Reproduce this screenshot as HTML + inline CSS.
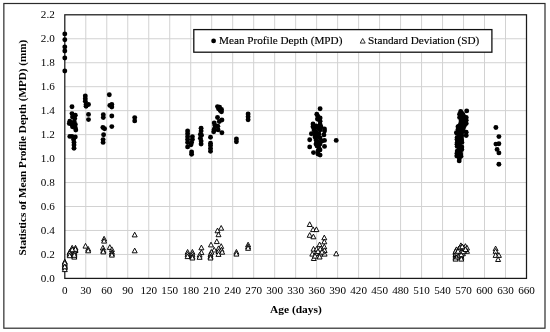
<!DOCTYPE html>
<html><head><meta charset="utf-8"><title>Statistics of Mean Profile Depth</title>
<style>
html,body{margin:0;padding:0;background:#fff;}
svg{display:block;}
text{font-family:"Liberation Serif","Times New Roman",serif;fill:#000;}
.ax{font-size:11.15px;}
.lg{font-size:11.2px;stroke:#000;stroke-width:0.15px;}
.b{font-weight:bold;font-size:11.15px;}
</style></head><body>
<svg width="550" height="332" viewBox="0 0 550 332">
<rect x="0" y="0" width="550" height="332" fill="#fff"/>
<rect x="3.85" y="3.5" width="541.15" height="324.70" fill="none" stroke="#2b2b2b" stroke-width="1.2"/>
<path d="M85.79 14.80V278.40M106.77 14.80V278.40M127.76 14.80V278.40M148.75 14.80V278.40M169.73 14.80V278.40M190.72 14.80V278.40M211.70 14.80V278.40M232.69 14.80V278.40M253.68 14.80V278.40M274.66 14.80V278.40M295.65 14.80V278.40M316.64 14.80V278.40M337.62 14.80V278.40M358.61 14.80V278.40M379.60 14.80V278.40M400.58 14.80V278.40M421.57 14.80V278.40M442.55 14.80V278.40M463.54 14.80V278.40M484.53 14.80V278.40M505.51 14.80V278.40M64.80 254.44H526.50M64.80 230.47H526.50M64.80 206.51H526.50M64.80 182.55H526.50M64.80 158.58H526.50M64.80 134.62H526.50M64.80 110.65H526.50M64.80 86.69H526.50M64.80 62.73H526.50M64.80 38.76H526.50" stroke="#d2d2d2" stroke-width="1" fill="none"/>
<rect x="64.80" y="14.80" width="461.70" height="263.60" fill="none" stroke="#1a1a1a" stroke-width="1.25"/>
<text class="ax" x="54.8" y="281.95" text-anchor="end">0.0</text>
<text class="ax" x="54.8" y="257.99" text-anchor="end">0.2</text>
<text class="ax" x="54.8" y="234.02" text-anchor="end">0.4</text>
<text class="ax" x="54.8" y="210.06" text-anchor="end">0.6</text>
<text class="ax" x="54.8" y="186.10" text-anchor="end">0.8</text>
<text class="ax" x="54.8" y="162.13" text-anchor="end">1.0</text>
<text class="ax" x="54.8" y="138.17" text-anchor="end">1.2</text>
<text class="ax" x="54.8" y="114.20" text-anchor="end">1.4</text>
<text class="ax" x="54.8" y="90.24" text-anchor="end">1.6</text>
<text class="ax" x="54.8" y="66.28" text-anchor="end">1.8</text>
<text class="ax" x="54.8" y="42.31" text-anchor="end">2.0</text>
<text class="ax" x="54.8" y="18.35" text-anchor="end">2.2</text>
<text class="ax" x="64.80" y="294.15" text-anchor="middle">0</text>
<text class="ax" x="85.79" y="294.15" text-anchor="middle">30</text>
<text class="ax" x="106.77" y="294.15" text-anchor="middle">60</text>
<text class="ax" x="127.76" y="294.15" text-anchor="middle">90</text>
<text class="ax" x="148.75" y="294.15" text-anchor="middle">120</text>
<text class="ax" x="169.73" y="294.15" text-anchor="middle">150</text>
<text class="ax" x="190.72" y="294.15" text-anchor="middle">180</text>
<text class="ax" x="211.70" y="294.15" text-anchor="middle">210</text>
<text class="ax" x="232.69" y="294.15" text-anchor="middle">240</text>
<text class="ax" x="253.68" y="294.15" text-anchor="middle">270</text>
<text class="ax" x="274.66" y="294.15" text-anchor="middle">300</text>
<text class="ax" x="295.65" y="294.15" text-anchor="middle">330</text>
<text class="ax" x="316.64" y="294.15" text-anchor="middle">360</text>
<text class="ax" x="337.62" y="294.15" text-anchor="middle">390</text>
<text class="ax" x="358.61" y="294.15" text-anchor="middle">420</text>
<text class="ax" x="379.60" y="294.15" text-anchor="middle">450</text>
<text class="ax" x="400.58" y="294.15" text-anchor="middle">480</text>
<text class="ax" x="421.57" y="294.15" text-anchor="middle">510</text>
<text class="ax" x="442.55" y="294.15" text-anchor="middle">540</text>
<text class="ax" x="463.54" y="294.15" text-anchor="middle">570</text>
<text class="ax" x="484.53" y="294.15" text-anchor="middle">600</text>
<text class="ax" x="505.51" y="294.15" text-anchor="middle">630</text>
<text class="ax" x="526.50" y="294.15" text-anchor="middle">660</text>
<text class="b" style="font-size:11.4px" x="295.9" y="313.3" text-anchor="middle">Age (days)</text>
<text class="b" transform="translate(25.7 147.6) rotate(-90)" text-anchor="middle">Statistics of Mean Profile Depth (MPD) (mm)</text>
<g fill="#000">
<circle cx="64.8" cy="33.9" r="2.45"/><circle cx="64.8" cy="39.8" r="2.45"/><circle cx="64.8" cy="46.9" r="2.45"/><circle cx="64.8" cy="51.0" r="2.45"/><circle cx="64.8" cy="58.0" r="2.45"/><circle cx="64.8" cy="71.0" r="2.45"/><circle cx="72.0" cy="106.8" r="2.45"/><circle cx="72.0" cy="113.6" r="2.45"/><circle cx="75.3" cy="115.3" r="2.45"/><circle cx="72.5" cy="116.9" r="2.45"/><circle cx="74.7" cy="118.5" r="2.45"/><circle cx="69.8" cy="121.3" r="2.45"/><circle cx="74.2" cy="121.8" r="2.45"/><circle cx="69.3" cy="123.5" r="2.45"/><circle cx="72.0" cy="124.5" r="2.45"/><circle cx="75.3" cy="124.5" r="2.45"/><circle cx="72.5" cy="126.7" r="2.45"/><circle cx="75.3" cy="127.8" r="2.45"/><circle cx="75.8" cy="130.0" r="2.45"/><circle cx="69.8" cy="136.4" r="2.45"/><circle cx="72.0" cy="136.4" r="2.45"/><circle cx="75.3" cy="136.9" r="2.45"/><circle cx="73.6" cy="139.6" r="2.45"/><circle cx="74.0" cy="142.4" r="2.45"/><circle cx="74.0" cy="145.1" r="2.45"/><circle cx="74.0" cy="148.2" r="2.45"/><circle cx="85.3" cy="95.9" r="2.45"/><circle cx="85.3" cy="98.8" r="2.45"/><circle cx="85.3" cy="101.3" r="2.45"/><circle cx="86.1" cy="104.5" r="2.45"/><circle cx="88.5" cy="104.5" r="2.45"/><circle cx="86.1" cy="106.2" r="2.45"/><circle cx="88.5" cy="114.4" r="2.45"/><circle cx="88.5" cy="119.6" r="2.45"/><circle cx="109.3" cy="94.7" r="2.45"/><circle cx="109.8" cy="105.4" r="2.45"/><circle cx="111.8" cy="104.5" r="2.45"/><circle cx="111.8" cy="107.0" r="2.45"/><circle cx="111.8" cy="116.0" r="2.45"/><circle cx="111.8" cy="126.6" r="2.45"/><circle cx="103.3" cy="114.7" r="2.45"/><circle cx="103.3" cy="117.6" r="2.45"/><circle cx="102.9" cy="127.5" r="2.45"/><circle cx="104.6" cy="128.8" r="2.45"/><circle cx="103.6" cy="134.7" r="2.45"/><circle cx="103.1" cy="139.6" r="2.45"/><circle cx="103.1" cy="142.4" r="2.45"/><circle cx="134.7" cy="117.6" r="2.45"/><circle cx="134.7" cy="120.9" r="2.45"/><circle cx="217.5" cy="106.6" r="2.45"/><circle cx="218.5" cy="108.8" r="2.45"/><circle cx="221.5" cy="109.5" r="2.45"/><circle cx="221.5" cy="111.7" r="2.45"/><circle cx="217.5" cy="117.5" r="2.45"/><circle cx="221.9" cy="120.0" r="2.45"/><circle cx="219.3" cy="121.5" r="2.45"/><circle cx="214.2" cy="122.9" r="2.45"/><circle cx="214.9" cy="125.5" r="2.45"/><circle cx="217.8" cy="126.3" r="2.45"/><circle cx="214.2" cy="129.2" r="2.45"/><circle cx="218.1" cy="129.9" r="2.45"/><circle cx="213.7" cy="131.7" r="2.45"/><circle cx="221.9" cy="132.8" r="2.45"/><circle cx="219.6" cy="107.2" r="2.45"/><circle cx="220.2" cy="110.6" r="2.45"/><circle cx="248.1" cy="113.9" r="2.45"/><circle cx="248.1" cy="116.8" r="2.45"/><circle cx="248.1" cy="119.7" r="2.45"/><circle cx="236.4" cy="138.9" r="2.45"/><circle cx="236.4" cy="141.8" r="2.45"/><circle cx="187.6" cy="130.9" r="2.45"/><circle cx="187.6" cy="133.8" r="2.45"/><circle cx="187.6" cy="136.7" r="2.45"/><circle cx="187.6" cy="139.6" r="2.45"/><circle cx="187.6" cy="142.5" r="2.45"/><circle cx="187.6" cy="146.9" r="2.45"/><circle cx="192.4" cy="136.7" r="2.45"/><circle cx="192.4" cy="139.6" r="2.45"/><circle cx="191.6" cy="142.5" r="2.45"/><circle cx="191.0" cy="144.7" r="2.45"/><circle cx="191.6" cy="154.2" r="2.45"/><circle cx="191.6" cy="152.0" r="2.45"/><circle cx="201.1" cy="128.3" r="2.45"/><circle cx="201.1" cy="130.9" r="2.45"/><circle cx="200.4" cy="134.5" r="2.45"/><circle cx="201.5" cy="135.3" r="2.45"/><circle cx="200.4" cy="138.2" r="2.45"/><circle cx="201.1" cy="141.1" r="2.45"/><circle cx="201.1" cy="144.0" r="2.45"/><circle cx="210.5" cy="137.2" r="2.45"/><circle cx="210.5" cy="143.3" r="2.45"/><circle cx="210.5" cy="145.5" r="2.45"/><circle cx="210.5" cy="148.4" r="2.45"/><circle cx="210.5" cy="151.3" r="2.45"/><circle cx="320.1" cy="108.7" r="2.45"/><circle cx="316.8" cy="114.2" r="2.45"/><circle cx="317.9" cy="116.4" r="2.45"/><circle cx="320.1" cy="118.0" r="2.45"/><circle cx="317.4" cy="119.1" r="2.45"/><circle cx="320.1" cy="121.3" r="2.45"/><circle cx="313.0" cy="124.0" r="2.45"/><circle cx="320.1" cy="124.5" r="2.45"/><circle cx="313.0" cy="126.7" r="2.45"/><circle cx="324.5" cy="128.9" r="2.45"/><circle cx="324.5" cy="131.1" r="2.45"/><circle cx="311.4" cy="133.8" r="2.45"/><circle cx="309.7" cy="139.8" r="2.45"/><circle cx="309.7" cy="146.9" r="2.45"/><circle cx="313.5" cy="152.6" r="2.45"/><circle cx="317.9" cy="154.0" r="2.45"/><circle cx="320.1" cy="155.1" r="2.45"/><circle cx="324.5" cy="146.4" r="2.45"/><circle cx="324.5" cy="140.4" r="2.45"/><circle cx="323.9" cy="134.9" r="2.45"/><circle cx="336.2" cy="140.4" r="2.45"/><circle cx="316.0" cy="126.0" r="2.45"/><circle cx="318.0" cy="128.0" r="2.45"/><circle cx="320.0" cy="130.0" r="2.45"/><circle cx="316.0" cy="132.0" r="2.45"/><circle cx="319.0" cy="134.0" r="2.45"/><circle cx="317.0" cy="136.0" r="2.45"/><circle cx="320.0" cy="138.0" r="2.45"/><circle cx="316.0" cy="140.0" r="2.45"/><circle cx="318.0" cy="142.0" r="2.45"/><circle cx="320.0" cy="144.0" r="2.45"/><circle cx="317.0" cy="146.0" r="2.45"/><circle cx="319.0" cy="148.0" r="2.45"/><circle cx="320.0" cy="150.0" r="2.45"/><circle cx="315.0" cy="137.0" r="2.45"/><circle cx="321.0" cy="127.0" r="2.45"/><circle cx="314.0" cy="130.0" r="2.45"/><circle cx="315.0" cy="134.0" r="2.45"/><circle cx="322.0" cy="141.0" r="2.45"/><circle cx="316.0" cy="144.0" r="2.45"/><circle cx="318.0" cy="151.0" r="2.45"/><circle cx="314.0" cy="128.0" r="2.45"/><circle cx="466.7" cy="110.9" r="2.45"/><circle cx="460.7" cy="111.5" r="2.45"/><circle cx="459.6" cy="114.2" r="2.45"/><circle cx="461.8" cy="115.3" r="2.45"/><circle cx="459.6" cy="117.5" r="2.45"/><circle cx="466.2" cy="117.5" r="2.45"/><circle cx="462.9" cy="119.1" r="2.45"/><circle cx="466.2" cy="120.2" r="2.45"/><circle cx="463.5" cy="121.8" r="2.45"/><circle cx="466.2" cy="123.5" r="2.45"/><circle cx="458.0" cy="126.7" r="2.45"/><circle cx="463.5" cy="127.8" r="2.45"/><circle cx="458.0" cy="129.5" r="2.45"/><circle cx="456.4" cy="132.7" r="2.45"/><circle cx="466.2" cy="132.2" r="2.45"/><circle cx="461.8" cy="131.6" r="2.45"/><circle cx="466.2" cy="135.5" r="2.45"/><circle cx="462.0" cy="124.5" r="2.45"/><circle cx="464.0" cy="117.0" r="2.45"/><circle cx="461.5" cy="113.0" r="2.45"/><circle cx="463.0" cy="114.5" r="2.45"/><circle cx="464.5" cy="120.0" r="2.45"/><circle cx="461.0" cy="121.0" r="2.45"/><circle cx="460.5" cy="124.0" r="2.45"/><circle cx="464.5" cy="125.5" r="2.45"/><circle cx="463.0" cy="130.0" r="2.45"/><circle cx="459.3" cy="125.9" r="2.45"/><circle cx="461.7" cy="125.7" r="2.45"/><circle cx="461.5" cy="128.1" r="2.45"/><circle cx="459.3" cy="130.9" r="2.45"/><circle cx="461.7" cy="130.3" r="2.45"/><circle cx="457.1" cy="132.9" r="2.45"/><circle cx="459.4" cy="132.6" r="2.45"/><circle cx="461.7" cy="132.7" r="2.45"/><circle cx="459.3" cy="135.4" r="2.45"/><circle cx="461.7" cy="135.5" r="2.45"/><circle cx="457.1" cy="137.5" r="2.45"/><circle cx="459.5" cy="137.2" r="2.45"/><circle cx="461.4" cy="137.9" r="2.45"/><circle cx="457.0" cy="139.6" r="2.45"/><circle cx="459.2" cy="139.7" r="2.45"/><circle cx="461.7" cy="140.1" r="2.45"/><circle cx="457.2" cy="142.4" r="2.45"/><circle cx="459.4" cy="141.8" r="2.45"/><circle cx="461.9" cy="142.4" r="2.45"/><circle cx="457.0" cy="144.2" r="2.45"/><circle cx="459.3" cy="144.2" r="2.45"/><circle cx="457.2" cy="146.4" r="2.45"/><circle cx="459.2" cy="146.4" r="2.45"/><circle cx="461.8" cy="147.0" r="2.45"/><circle cx="459.0" cy="149.2" r="2.45"/><circle cx="461.8" cy="149.4" r="2.45"/><circle cx="457.2" cy="151.1" r="2.45"/><circle cx="460.5" cy="151.1" r="2.45"/><circle cx="457.0" cy="153.3" r="2.45"/><circle cx="460.7" cy="154.0" r="2.45"/><circle cx="456.8" cy="155.9" r="2.45"/><circle cx="459.4" cy="156.0" r="2.45"/><circle cx="460.9" cy="156.3" r="2.45"/><circle cx="459.3" cy="158.4" r="2.45"/><circle cx="459.2" cy="160.9" r="2.45"/><circle cx="495.9" cy="127.5" r="2.45"/><circle cx="498.9" cy="136.6" r="2.45"/><circle cx="495.9" cy="144.1" r="2.45"/><circle cx="498.9" cy="143.8" r="2.45"/><circle cx="497.1" cy="149.4" r="2.45"/><circle cx="498.9" cy="152.9" r="2.45"/><circle cx="498.9" cy="164.2" r="2.45"/>
</g>
<g fill="#fff" stroke="#000" stroke-width="0.95" stroke-linejoin="miter">
<path d="M134.70 232.20L137.20 236.90H132.20Z"/><path d="M134.70 248.10L137.20 252.80H132.20Z"/><path d="M104.10 236.30L106.60 241.00H101.60Z"/><path d="M104.10 238.40L106.60 243.10H101.60Z"/><path d="M102.90 245.30L105.40 250.00H100.40Z"/><path d="M103.30 247.80L105.80 252.50H100.80Z"/><path d="M109.80 244.70L112.30 249.40H107.30Z"/><path d="M111.90 246.90L114.40 251.60H109.40Z"/><path d="M111.90 249.40L114.40 254.10H109.40Z"/><path d="M111.90 251.00L114.40 255.70H109.40Z"/><path d="M111.90 252.40L114.40 257.10H109.40Z"/><path d="M103.30 249.20L105.80 253.90H100.80Z"/><path d="M85.50 243.40L88.00 248.10H83.00Z"/><path d="M88.20 246.50L90.70 251.20H85.70Z"/><path d="M88.20 248.10L90.70 252.80H85.70Z"/><path d="M72.20 245.30L74.70 250.00H69.70Z"/><path d="M75.50 245.30L78.00 250.00H73.00Z"/><path d="M75.50 247.80L78.00 252.50H73.00Z"/><path d="M69.70 249.40L72.20 254.10H67.20Z"/><path d="M69.70 251.90L72.20 256.60H67.20Z"/><path d="M74.30 250.20L76.80 254.90H71.80Z"/><path d="M74.30 251.90L76.80 256.60H71.80Z"/><path d="M74.30 253.40L76.80 258.10H71.80Z"/><path d="M64.80 259.20L67.30 263.90H62.30Z"/><path d="M64.80 261.70L67.30 266.40H62.30Z"/><path d="M64.80 263.30L67.30 268.00H62.30Z"/><path d="M64.80 264.90L67.30 269.60H62.30Z"/><path d="M64.80 266.90L67.30 271.60H62.30Z"/><path d="M64.80 260.40L67.30 265.10H62.30Z"/><path d="M64.80 264.10L67.30 268.80H62.30Z"/><path d="M69.70 250.60L72.20 255.30H67.20Z"/><path d="M69.70 253.00L72.20 257.70H67.20Z"/><path d="M74.30 248.60L76.80 253.30H71.80Z"/><path d="M74.30 251.00L76.80 255.70H71.80Z"/><path d="M74.30 254.40L76.80 259.10H71.80Z"/><path d="M75.50 246.60L78.00 251.30H73.00Z"/><path d="M72.20 247.00L74.70 251.70H69.70Z"/><path d="M74.30 252.60L76.80 257.30H71.80Z"/><path d="M221.20 225.50L223.70 230.20H218.70Z"/><path d="M217.50 228.10L220.00 232.80H215.00Z"/><path d="M218.50 232.00L221.00 236.70H216.00Z"/><path d="M216.80 238.90L219.30 243.60H214.30Z"/><path d="M211.00 242.20L213.50 246.90H208.50Z"/><path d="M221.20 243.70L223.70 248.40H218.70Z"/><path d="M218.50 245.90L221.00 250.60H216.00Z"/><path d="M221.50 247.30L224.00 252.00H219.00Z"/><path d="M214.20 247.30L216.70 252.00H211.70Z"/><path d="M218.50 248.80L221.00 253.50H216.00Z"/><path d="M222.20 249.50L224.70 254.20H219.70Z"/><path d="M211.30 249.50L213.80 254.20H208.80Z"/><path d="M218.50 251.70L221.00 256.40H216.00Z"/><path d="M210.50 251.70L213.00 256.40H208.00Z"/><path d="M210.50 253.90L213.00 258.60H208.00Z"/><path d="M210.50 255.30L213.00 260.00H208.00Z"/><path d="M201.40 245.10L203.90 249.80H198.90Z"/><path d="M201.40 249.90L203.90 254.60H198.90Z"/><path d="M199.60 252.40L202.10 257.10H197.10Z"/><path d="M199.60 254.60L202.10 259.30H197.10Z"/><path d="M187.60 249.50L190.10 254.20H185.10Z"/><path d="M187.60 251.70L190.10 256.40H185.10Z"/><path d="M187.60 253.90L190.10 258.60H185.10Z"/><path d="M192.40 249.50L194.90 254.20H189.90Z"/><path d="M192.40 251.70L194.90 256.40H189.90Z"/><path d="M192.40 253.90L194.90 258.60H189.90Z"/><path d="M192.40 255.30L194.90 260.00H189.90Z"/><path d="M236.40 249.50L238.90 254.20H233.90Z"/><path d="M236.40 251.40L238.90 256.10H233.90Z"/><path d="M248.10 242.20L250.60 246.90H245.60Z"/><path d="M248.10 244.10L250.60 248.80H245.60Z"/><path d="M248.10 245.60L250.60 250.30H245.60Z"/><path d="M309.70 221.80L312.20 226.50H307.20Z"/><path d="M313.10 226.90L315.60 231.60H310.60Z"/><path d="M316.40 226.90L318.90 231.60H313.90Z"/><path d="M309.70 232.60L312.20 237.30H307.20Z"/><path d="M313.40 234.10L315.90 238.80H310.90Z"/><path d="M324.30 235.10L326.80 239.80H321.80Z"/><path d="M324.30 239.10L326.80 243.80H321.80Z"/><path d="M319.60 242.00L322.10 246.70H317.10Z"/><path d="M324.30 244.20L326.80 248.90H321.80Z"/><path d="M313.50 246.40L316.00 251.10H311.00Z"/><path d="M316.70 246.40L319.20 251.10H314.20Z"/><path d="M320.30 246.40L322.80 251.10H317.80Z"/><path d="M324.60 247.80L327.10 252.50H322.10Z"/><path d="M312.30 251.40L314.80 256.10H309.80Z"/><path d="M316.00 250.70L318.50 255.40H313.50Z"/><path d="M320.30 251.40L322.80 256.10H317.80Z"/><path d="M324.60 251.40L327.10 256.10H322.10Z"/><path d="M313.80 255.80L316.30 260.50H311.30Z"/><path d="M319.60 254.30L322.10 259.00H317.10Z"/><path d="M336.20 251.10L338.70 255.80H333.70Z"/><path d="M318.00 248.90L320.50 253.60H315.50Z"/><path d="M315.00 253.40L317.50 258.10H312.50Z"/><path d="M322.00 249.40L324.50 254.10H319.50Z"/><path d="M460.90 242.90L463.40 247.60H458.40Z"/><path d="M465.40 243.70L467.90 248.40H462.90Z"/><path d="M467.00 245.30L469.50 250.00H464.50Z"/><path d="M456.40 246.90L458.90 251.60H453.90Z"/><path d="M458.80 246.10L461.30 250.80H456.30Z"/><path d="M462.90 246.90L465.40 251.60H460.40Z"/><path d="M467.00 248.60L469.50 253.30H464.50Z"/><path d="M455.50 250.20L458.00 254.90H453.00Z"/><path d="M459.60 250.20L462.10 254.90H457.10Z"/><path d="M462.90 251.00L465.40 255.70H460.40Z"/><path d="M455.50 253.50L458.00 258.20H453.00Z"/><path d="M455.50 255.10L458.00 259.80H453.00Z"/><path d="M461.30 253.50L463.80 258.20H458.80Z"/><path d="M461.30 255.10L463.80 259.80H458.80Z"/><path d="M458.00 252.40L460.50 257.10H455.50Z"/><path d="M464.00 248.40L466.50 253.10H461.50Z"/><path d="M455.50 248.90L458.00 253.60H453.00Z"/><path d="M455.50 251.80L458.00 256.50H453.00Z"/><path d="M455.50 256.40L458.00 261.10H453.00Z"/><path d="M457.20 250.90L459.70 255.60H454.70Z"/><path d="M457.20 254.20L459.70 258.90H454.70Z"/><path d="M459.40 247.90L461.90 252.60H456.90Z"/><path d="M459.40 253.00L461.90 257.70H456.90Z"/><path d="M461.30 249.40L463.80 254.10H458.80Z"/><path d="M461.30 252.00L463.80 256.70H458.80Z"/><path d="M461.30 256.40L463.80 261.10H458.80Z"/><path d="M463.20 249.00L465.70 253.70H460.70Z"/><path d="M463.20 245.20L465.70 249.90H460.70Z"/><path d="M460.00 245.00L462.50 249.70H457.50Z"/><path d="M458.00 248.60L460.50 253.30H455.50Z"/><path d="M465.50 246.80L468.00 251.50H463.00Z"/><path d="M462.20 244.00L464.70 248.70H459.70Z"/><path d="M495.60 246.10L498.10 250.80H493.10Z"/><path d="M495.60 248.60L498.10 253.30H493.10Z"/><path d="M495.60 252.70L498.10 257.40H493.10Z"/><path d="M498.90 252.70L501.40 257.40H496.40Z"/><path d="M498.10 256.80L500.60 261.50H495.60Z"/>
</g>
<rect x="193.8" y="29.6" width="298.10" height="22.60" fill="#fff" stroke="#111" stroke-width="1.3"/>
<circle cx="213.6" cy="40.9" r="2.4" fill="#000"/>
<text class="lg" x="219.0" y="44.4">Mean Profile Depth (MPD)</text>
<path d="M362.7 38.5L365.2 43.1H360.2Z" fill="#fff" stroke="#000" stroke-width="0.8"/>
<text class="lg" x="368.1" y="44.4">Standard Deviation (SD)</text>
</svg>
</body></html>
